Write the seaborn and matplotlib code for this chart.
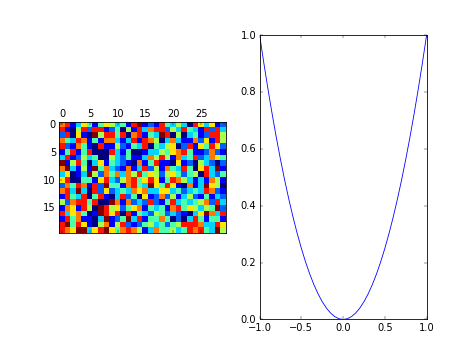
import matplotlib
matplotlib.use('Agg')
import matplotlib.pyplot as plt
import numpy as np
import pandas as pd
import seaborn as sns

# values (0 = dark blue ... 9 = dark red)
grid_rows = [
    [7, 8, 1, 3, 6, 4, 1, 4, 6, 5, 3, 4, 1, 8, 9, 1, 2, 1, 8, 4, 3, 5, 3, 0, 8, 6, 3, 6, 1, 2],
    [8, 1, 0, 5, 8, 2, 8, 8, 1, 2, 4, 0, 5, 1, 8, 3, 7, 8, 8, 2, 5, 3, 8, 4, 3, 1, 8, 2, 8, 3],
    [2, 8, 0, 6, 1, 0, 9, 5, 8, 8, 4, 8, 0, 7, 8, 1, 4, 3, 9, 8, 0, 5, 0, 3, 4, 1, 2, 8, 8, 5],
    [7, 4, 3, 8, 7, 1, 4, 1, 7, 7, 3, 1, 3, 8, 1, 8, 7, 5, 0, 3, 7, 3, 1, 1, 7, 2, 6, 1, 8, 5],
    [8, 2, 1, 7, 4, 1, 0, 8, 1, 1, 5, 2, 1, 4, 3, 8, 0, 4, 3, 5, 6, 0, 2, 8, 1, 6, 4, 8, 6, 2],
    [1, 4, 8, 1, 4, 8, 0, 0, 0, 8, 3, 1, 4, 0, 0, 1, 3, 3, 5, 4, 6, 7, 8, 4, 1, 1, 2, 7, 2, 1],
    [3, 8, 1, 2, 5, 3, 4, 0, 0, 5, 3, 2, 4, 1, 1, 3, 7, 5, 8, 5, 1, 7, 3, 4, 8, 2, 3, 7, 6, 4],
    [9, 1, 5, 8, 4, 0, 3, 6, 1, 4, 3, 2, 1, 0, 7, 1, 4, 8, 1, 1, 0, 6, 1, 2, 0, 5, 3, 2, 0, 2],
    [7, 9, 3, 1, 5, 1, 9, 4, 7, 3, 2, 1, 7, 1, 3, 8, 2, 5, 1, 7, 4, 3, 8, 4, 0, 6, 8, 3, 9, 1],
    [3, 6, 0, 1, 3, 9, 5, 2, 7, 4, 7, 3, 7, 5, 8, 4, 6, 5, 2, 5, 6, 4, 2, 4, 5, 0, 8, 3, 2, 4],
    [6, 8, 0, 0, 4, 4, 1, 6, 8, 3, 2, 5, 7, 8, 4, 6, 8, 6, 1, 4, 8, 7, 5, 3, 1, 3, 1, 7, 5, 1],
    [2, 7, 4, 8, 7, 1, 8, 2, 9, 4, 4, 1, 7, 8, 4, 3, 9, 6, 4, 8, 6, 1, 0, 7, 1, 3, 9, 6, 5, 0],
    [7, 8, 3, 9, 3, 0, 8, 2, 6, 2, 3, 4, 3, 7, 6, 7, 3, 3, 6, 6, 3, 4, 2, 3, 4, 3, 8, 7, 2, 1],
    [1, 8, 4, 3, 8, 0, 4, 8, 1, 0, 3, 8, 2, 4, 0, 6, 1, 2, 7, 2, 5, 1, 3, 5, 2, 1, 4, 1, 3, 2],
    [5, 2, 7, 8, 8, 4, 8, 0, 0, 9, 7, 1, 7, 2, 3, 2, 8, 2, 1, 4, 8, 3, 4, 3, 4, 5, 7, 2, 8, 3],
    [1, 7, 6, 1, 8, 5, 0, 9, 8, 5, 6, 2, 4, 6, 7, 1, 4, 3, 4, 1, 7, 8, 4, 6, 5, 3, 5, 4, 9, 2],
    [8, 3, 6, 7, 4, 0, 1, 9, 8, 6, 8, 0, 8, 1, 4, 3, 2, 5, 4, 2, 3, 2, 1, 0, 3, 6, 9, 7, 3, 8],
    [1, 8, 4, 7, 1, 1, 0, 3, 9, 1, 2, 4, 9, 3, 8, 1, 4, 4, 7, 4, 0, 2, 0, 3, 8, 4, 1, 4, 4, 1],
    [8, 9, 4, 8, 6, 1, 0, 5, 7, 1, 5, 8, 2, 1, 2, 4, 5, 3, 4, 2, 4, 5, 8, 8, 8, 7, 3, 3, 8, 6],
    [8, 7, 6, 9, 9, 3, 6, 8, 9, 6, 4, 7, 8, 7, 5, 1, 3, 7, 4, 4, 5, 3, 4, 8, 7, 8, 4, 3, 9, 5],
]

# curve points
curve_x = [-1.0, -0.95, -0.9, -0.85, -0.8, -0.75, -0.7, -0.65, -0.6, -0.55, -0.5,
           -0.45, -0.4, -0.35, -0.3, -0.25, -0.2, -0.15, -0.1, -0.05, 0.0,
           0.05, 0.1, 0.15, 0.2, 0.25, 0.3, 0.35, 0.4, 0.45, 0.5,
           0.55, 0.6, 0.65, 0.7, 0.75, 0.8, 0.85, 0.9, 0.95, 1.0]
curve_y = [1.0, 0.9025, 0.81, 0.7225, 0.64, 0.5625, 0.49, 0.4225, 0.36, 0.3025, 0.25,
           0.2025, 0.16, 0.1225, 0.09, 0.0625, 0.04, 0.0225, 0.01, 0.0025, 0.0,
           0.0025, 0.01, 0.0225, 0.04, 0.0625, 0.09, 0.1225, 0.16, 0.2025, 0.25,
           0.3025, 0.36, 0.4225, 0.49, 0.5625, 0.64, 0.7225, 0.81, 0.9025, 1.0]

plt.style.use('classic')

fig = plt.figure(figsize=(8, 6), dpi=59.25)
ax1 = fig.add_subplot(1, 2, 1)
ax2 = fig.add_subplot(1, 2, 2)

# left: colour grid
ax1.matshow(np.array(grid_rows), cmap='jet')

# right: curve
df = pd.DataFrame({'x': curve_x, 'y': curve_y})
sns.lineplot(data=df, x='x', y='y', ax=ax2, color='b', linewidth=1)
ax2.set_xlabel('')
ax2.set_ylabel('')
ax2.set_xlim(-1, 1)
ax2.set_ylim(0, 1)

fig.savefig('out.png', dpi=59.25)
